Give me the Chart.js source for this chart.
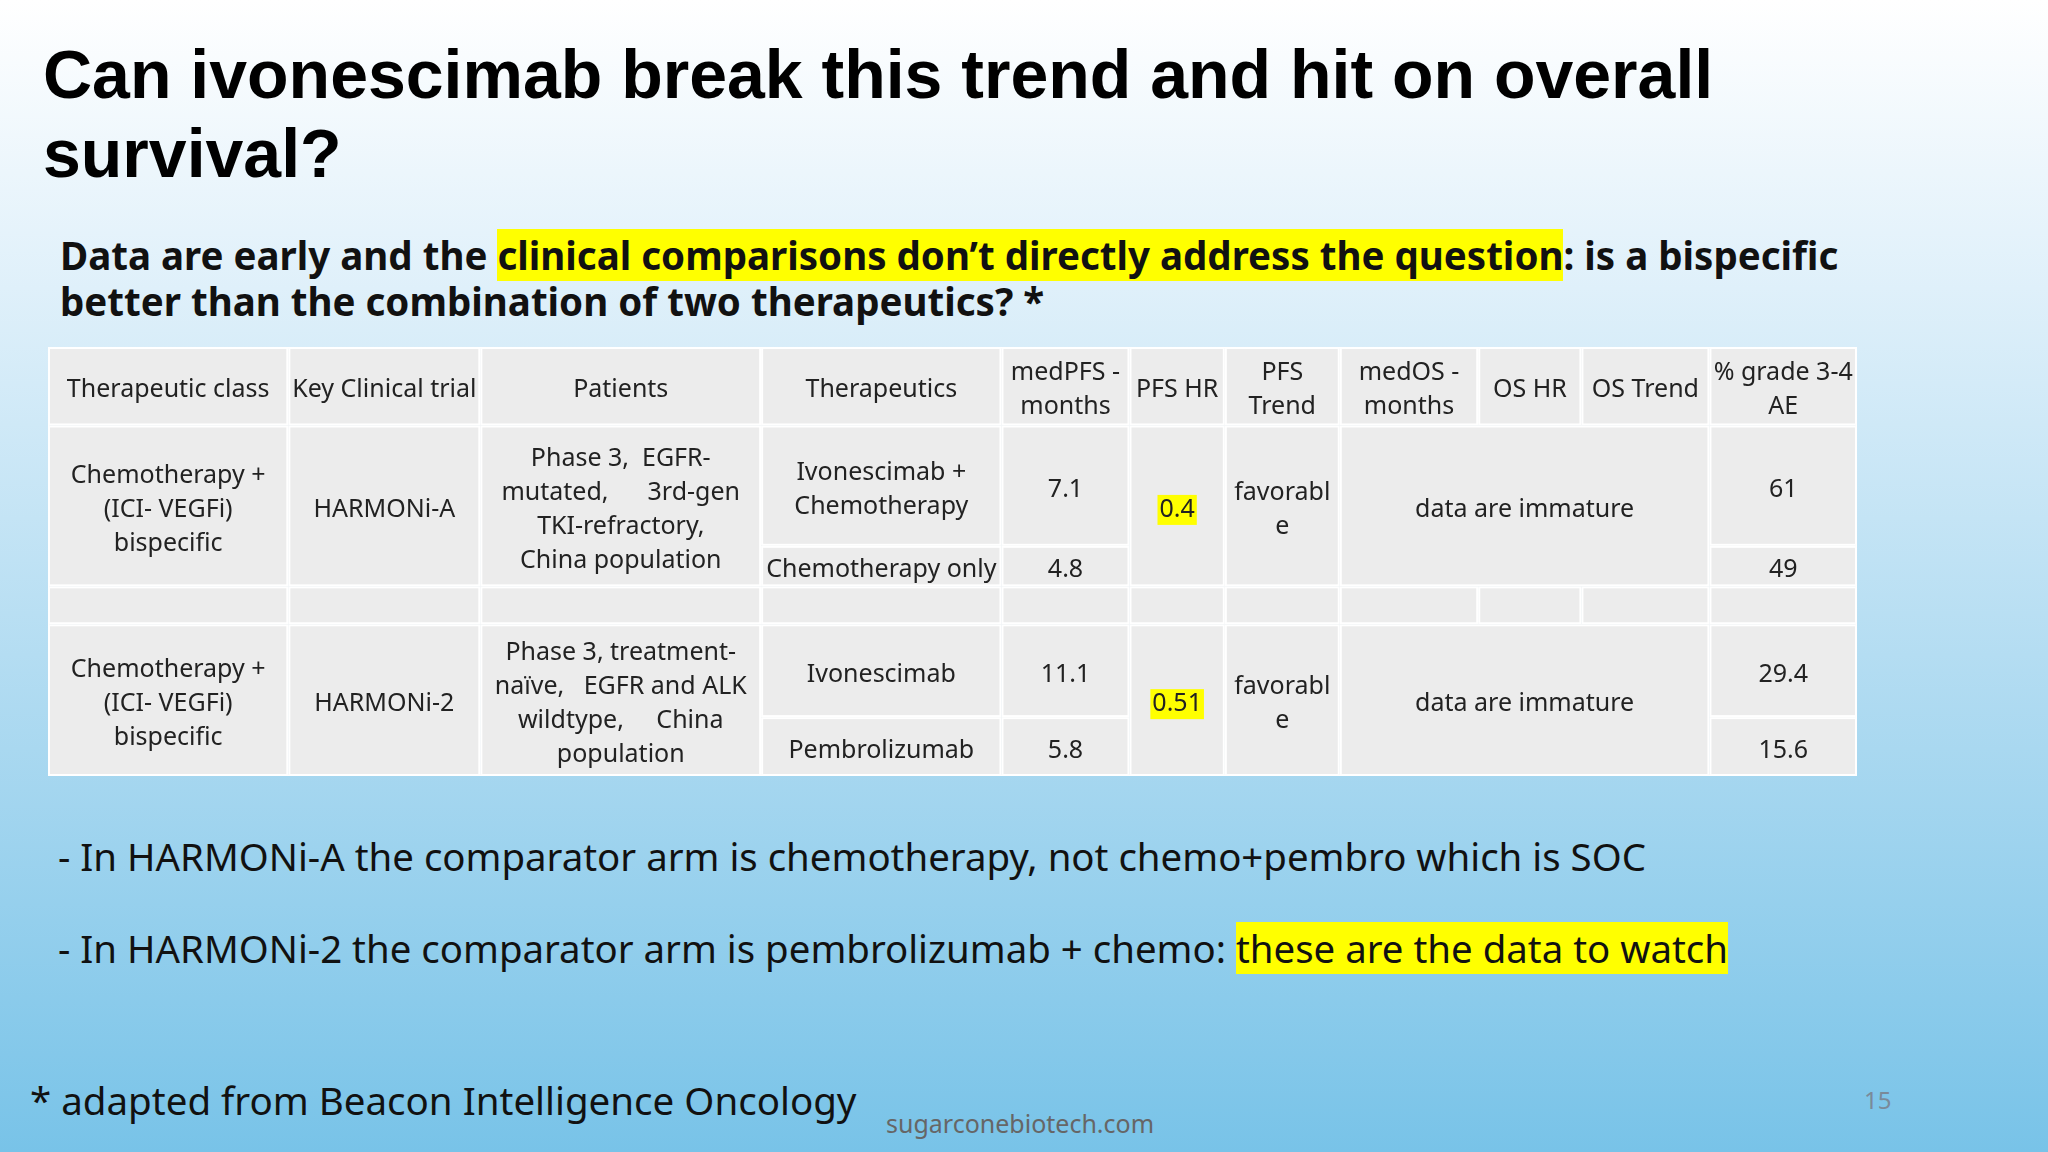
<!DOCTYPE html>
<html><head><meta charset="utf-8">
<script src="https://cdn.jsdelivr.net/npm/chart.js@4"></script>
<style>
html,body{margin:0;padding:0;}
body{width:2048px;height:1152px;position:relative;overflow:hidden;
background:linear-gradient(to bottom,#ffffff 0%,#dff0fa 25%,#a9d8f0 65%,#78c3e8 100%);font-family:"Noto Sans",sans-serif;}
.t{position:absolute;white-space:nowrap;}
#title{left:43px;top:35px;font-family:"Liberation Sans",Arial,sans-serif;font-weight:bold;font-size:68px;line-height:79px;color:#000;}
#sub{left:60px;top:232px;font-weight:bold;font-size:38.5px;line-height:46px;color:#111;}
.hl{background:#ffff00;}
.b{font-size:38.4px;color:#111;left:58px;}
#wrap{position:absolute;left:48px;top:347px;width:1809px;height:429px;}
</style></head><body>
<div class="t" id="title">Can ivonescimab break this trend and hit on overall<br>survival?</div>
<div class="t" id="sub">Data are early and the <span class="hl">clinical comparisons don’t directly address the question</span>: is a bispecific<br>better than the combination of two therapeutics? *</div>
<div class="t b" style="top:830px">- In HARMONi-A the comparator arm is chemotherapy, not chemo+pembro which is SOC</div>
<div class="t b" style="top:922px">- In HARMONi-2 the comparator arm is pembrolizumab + chemo: <span class="hl">these are the data to watch</span></div>
<div class="t" style="left:30px;top:1074px;font-size:38.5px;color:#111;">* adapted from Beacon Intelligence Oncology</div>
<div class="t" style="left:886px;top:1106px;font-size:25px;color:#666;">sugarconebiotech.com</div>
<div class="t" style="left:1864px;top:1083px;font-size:24px;color:#7a8a99;">15</div>
<div id="wrap"><canvas id="c" width="1809" height="429"></canvas></div>
<script>
const headers=["Therapeutic class","Key Clinical trial","Patients","Therapeutics","medPFS -\nmonths","PFS HR","PFS\nTrend","medOS -\nmonths","OS HR","OS Trend","% grade 3-4\nAE"];
const trials=["HARMONi-A","HARMONi-2"];
const classes=["Chemotherapy +\n(ICI- VEGFi)\nbispecific","Chemotherapy +\n(ICI- VEGFi)\nbispecific"];
const patients=["Phase 3,  EGFR-\nmutated,      3rd-gen\nTKI-refractory,\nChina population","Phase 3, treatment-\nnaïve,   EGFR and ALK\nwildtype,     China\npopulation"];
const therapeutics=[["Ivonescimab +\nChemotherapy","Chemotherapy only"],["Ivonescimab","Pembrolizumab"]];
const medPFS=[["7.1","4.8"],["11.1","5.8"]];
const pfsHR=["0.4","0.51"];
const pfsTrend=["favorabl\ne","favorabl\ne"];
const osText=["data are immature","data are immature"];
const grade34AE=[["61","49"],["29.4","15.6"]];
const colW=[184,147,215,184,98,73,88,106,79,98,113];
const rowH=[60,92,31,29,71,45];

const cells=[];
headers.forEach((h,i)=>cells.push({r:0,c:i,rs:1,cs:1,text:h}));
[1,4].forEach((r0,k)=>{
  cells.push({r:r0,c:0,rs:2,cs:1,text:classes[k]});
  cells.push({r:r0,c:1,rs:2,cs:1,text:trials[k]});
  cells.push({r:r0,c:2,rs:2,cs:1,text:patients[k]});
  for(let j=0;j<2;j++){
    cells.push({r:r0+j,c:3,rs:1,cs:1,text:therapeutics[k][j]});
    cells.push({r:r0+j,c:4,rs:1,cs:1,text:medPFS[k][j]});
    cells.push({r:r0+j,c:10,rs:1,cs:1,text:grade34AE[k][j]});
  }
  cells.push({r:r0,c:5,rs:2,cs:1,text:pfsHR[k],hl:true});
  cells.push({r:r0,c:6,rs:2,cs:1,text:pfsTrend[k]});
  cells.push({r:r0,c:7,rs:2,cs:3,text:osText[k]});
});
for(let c=0;c<11;c++) cells.push({r:3,c:c,rs:1,cs:1,text:""});

const tablePlugin={id:'tbl',afterDraw(chart){
  const ctx=chart.ctx, W=chart.width, H=chart.height;
  const sx=W/colW.reduce((a,b)=>a+b,0), sy=H/rowH.reduce((a,b)=>a+b,0);
  const cx=[0];colW.forEach(w=>cx.push(cx[cx.length-1]+w*sx));
  const ry=[0];rowH.forEach(h=>ry.push(ry[ry.length-1]+h*sy));
  ctx.save();
  ctx.font='25px "Noto Sans"';ctx.textAlign='center';ctx.textBaseline='middle';
  cells.forEach(o=>{
    const x=cx[o.c],y=ry[o.r],w=cx[o.c+o.cs]-x,h=ry[o.r+o.rs]-y;
    ctx.fillStyle='#ececec';ctx.fillRect(x,y,w,h);
    ctx.strokeStyle='#ffffff';ctx.lineWidth=2;ctx.strokeRect(x+1,y+1,w-2,h-2);
    const lines=o.text.split('\n'),lh=34;
    const y0=y+h/2-(lines.length-1)*lh/2+4;
    lines.forEach((l,i)=>{
      if(o.hl){const tw=ctx.measureText(l).width;ctx.fillStyle='#ffff00';ctx.fillRect(x+w/2-tw/2-2,y0+i*lh-15,tw+4,30);}
      ctx.fillStyle='#222';ctx.fillText(l,x+w/2,y0+i*lh);
    });
  });
  ctx.strokeStyle='#ffffff';ctx.lineWidth=3;ctx.strokeRect(0,0,W,H);
  ctx.restore();
}};
new Chart(document.getElementById('c'),{type:'bar',data:{labels:[],datasets:[]},
 options:{responsive:false,devicePixelRatio:1,animation:false,
 plugins:{legend:{display:false},tooltip:{enabled:false}},
 scales:{x:{display:false},y:{display:false}},layout:{padding:0}},
 plugins:[tablePlugin]});
</script>
</body></html>
